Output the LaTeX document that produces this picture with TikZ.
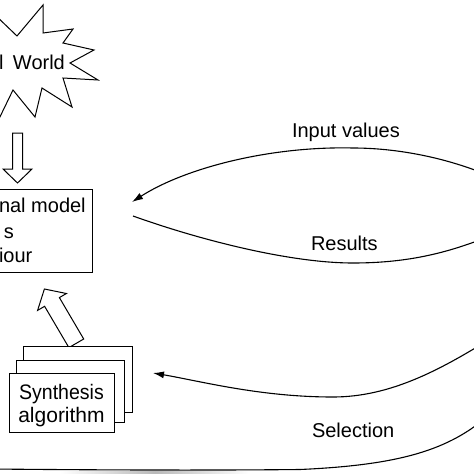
\documentclass[tikz,border=0pt]{standalone}
\usepackage{fontspec}
\setmainfont{Liberation Sans}
\usetikzlibrary{arrows.meta}
\begin{document}
\begin{tikzpicture}[x=1pt,y=-1pt,line join=miter,
  lbl/.style={inner sep=0pt,outer sep=0pt,anchor=base west,font=\fontsize{20}{24}\selectfont},
  synlbl/.style={inner sep=0pt,outer sep=0pt,anchor=base,font=\fontsize{21}{24}\selectfont},
  flow/.style={line width=1.1pt,-{Latex[length=11pt,width=7pt]}},
  plainline/.style={line width=1.1pt},
  frame/.style={draw,fill=white,line width=1pt,inner sep=0pt,outer sep=0pt,anchor=north west},
  blockarrow/.style={draw,fill=white,line width=1pt}]
\useasboundingbox (0,0) rectangle (474,474);
\clip (0,0) rectangle (474,474);
% starburst "Real World"
\draw[line width=1pt] (-8,12) -- (17,36) -- (43,5) -- (43,33) -- (73,29) -- (63,43) -- (94,50)
  -- (70,63) -- (98,80) -- (63,78) -- (72,107) -- (42,88) -- (35,117) -- (13,90) -- (-4,125);
\node[lbl] (world) at (-1,69) {l\hspace{4pt} World};
% down block arrow
\draw[blockarrow] (12.5,133) -- (22.5,133) -- (22.5,169) -- (32,169) -- (17.5,183) -- (3,169) -- (12.5,169) -- cycle;
% model box
\node[draw,line width=1pt,inner sep=0pt,outer sep=0pt,anchor=north west,minimum width=122pt,minimum height=83pt] (model) at (-30,189) {};
\node[lbl] (m1) at (-1,212) {nal model};
\node[lbl] (m2) at (4,238) {s};
\node[lbl] (m3) at (-1,262) {iour};
% up-left block arrow
\draw[blockarrow] (83.7,339) -- (59.4,297.6) -- (66.4,293.5) -- (44.4,289) -- (37.6,310.4) -- (44.6,306.3) -- (68.9,347.6) -- cycle;
% stacked synthesis boxes
\node[frame,minimum width=109pt,minimum height=66pt] (back) at (23,346) {};
\node[frame,minimum width=108pt,minimum height=62pt] (mid) at (16,360) {};
\node[frame,minimum width=105pt,minimum height=59pt] (front) at (9,373) {};
\node[synlbl] (syn1) at (61.5,399) {\scalebox{0.93}[1]{Synthesis}};
\node[synlbl] (syn2) at (61.5,422) {algorithm};
% curve end points
\coordinate (inR) at (490,176);
\coordinate (inTop) at (353,148);
\coordinate (inTip) at (132,202);
\coordinate (resL) at (133,216);
\coordinate (resBot) at (353,263);
\coordinate (resR) at (490,236);
\coordinate (selR) at (490,339);
\coordinate (selBot) at (333,397);
\coordinate (selTip) at (153,373);
\coordinate (botR) at (490,414);
\coordinate (botM) at (300,469.5);
\coordinate (botL) at (-10,469);
% curves
\draw[flow] (inR) .. controls (440,155) and (390,148) .. (inTop) .. controls (270,146) and (185,168) .. (inTip);
\draw[plainline] (resL) .. controls (200,240) and (290,263) .. (resBot) .. controls (410,263) and (450,252) .. (resR);
\draw[flow] (selR) .. controls (440,370) and (390,397) .. (selBot) .. controls (260,397) and (200,381) .. (selTip);
\draw[plainline] (botR) .. controls (450,450) and (400,465) .. (botM) .. controls (200,470.5) and (100,470) .. (botL);
\shade[left color=white,right color=white,middle color=gray!55] (60,471.5) rectangle (250,474);
% labels
\node[lbl] (inlbl) at (292,137) {Input values};
\node[lbl] (reslbl) at (311,250) {Results};
\node[lbl] (sellbl) at (312,437) {Selection};
\end{tikzpicture}
\end{document}
